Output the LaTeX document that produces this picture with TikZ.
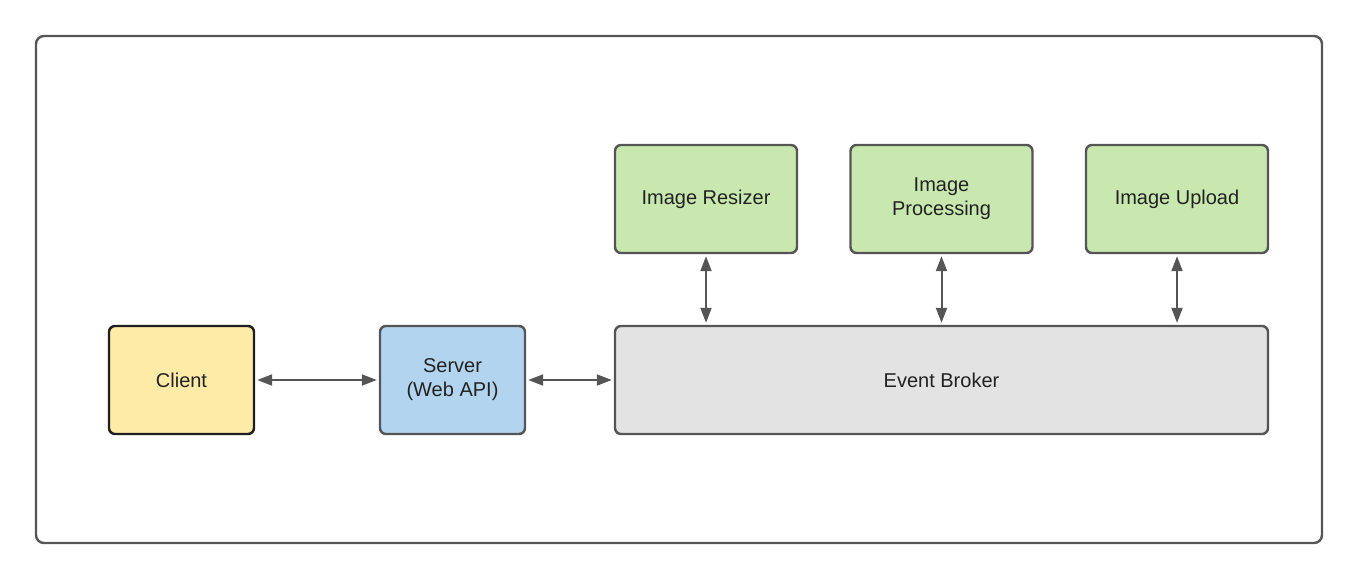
\documentclass[tikz,border=0pt]{standalone}
\usepackage{fontspec}
\setmainfont{Liberation Sans}
\usetikzlibrary{arrows.meta}
\definecolor{clientfill}{HTML}{FFEBA8}
\definecolor{serverfill}{HTML}{B3D4EE}
\definecolor{greenfill}{HTML}{C8E8AF}
\definecolor{grayfill}{HTML}{E3E3E3}
\definecolor{edge}{HTML}{555555}
\definecolor{dark}{HTML}{1E1E1E}
\definecolor{txt}{HTML}{222222}
\tikzset{
  box/.style={draw=edge, line width=1.2pt, rounded corners=3pt, inner sep=2pt,
    align=center, font=\fontsize{10}{12}\selectfont, text=txt},
  small/.style={box, minimum width=72.5pt, minimum height=54pt},
  wide/.style={box, minimum width=91pt, minimum height=54pt},
  arr/.style={draw=edge, line width=1pt, {Triangle[length=7.5pt,width=5.5pt]}-{Triangle[length=7.5pt,width=5.5pt]}, shorten <=1pt, shorten >=1pt},
  frame/.style={draw=edge, line width=1.2pt, rounded corners=4pt}
}
\begin{document}
\begin{tikzpicture}[x=0.5pt,y=-0.5pt]
\useasboundingbox (0,0) rectangle (1358,579);
\draw[frame] (36,36) rectangle (1322,543);
\node[small, fill=clientfill, draw=dark] (client) at (181.5,380) {Client};
\node[small, fill=serverfill] (server) at (452.5,380) {Server\\(Web API)};
\node[box, fill=grayfill, minimum width=326.5pt, minimum height=54pt] (broker) at (941.5,380) {Event Broker};
\node[wide, fill=greenfill] (resizer) at (706,199) {Image Resizer};
\node[wide, fill=greenfill] (proc) at (941.5,199) {Image\\Processing};
\node[wide, fill=greenfill] (upload) at (1177,199) {Image Upload};
\draw[arr] (client) -- (server);
\draw[arr] (server) -- (broker);
\draw[arr] (resizer) -- (resizer |- broker.north);
\draw[arr] (proc) -- (proc |- broker.north);
\draw[arr] (upload) -- (upload |- broker.north);
\end{tikzpicture}
\end{document}
